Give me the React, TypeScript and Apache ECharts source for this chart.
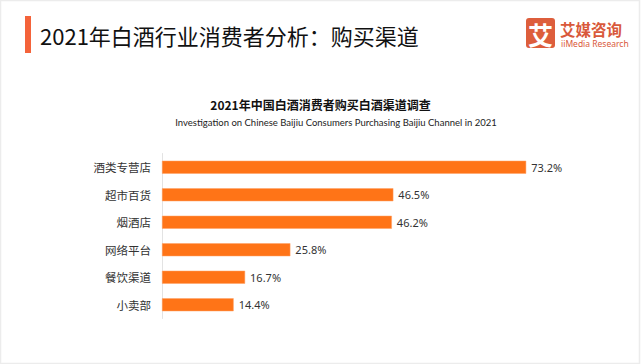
import React, { useEffect, useRef } from "react";
import * as echarts from "echarts";

const categories = ["酒类专营店", "超市百货", "烟酒店", "网络平台", "餐饮渠道", "小卖部"];
const values = [73.2, 46.5, 46.2, 25.8, 16.7, 14.4];
const pageTitle = "2021年白酒行业消费者分析：购买渠道";
const chartTitle = "2021年中国白酒消费者购买白酒渠道调查";
const chartSubtitle = "Investigation on Chinese Baijiu Consumers Purchasing Baijiu Channel in 2021";

export default function App() {
  const ref = useRef<HTMLDivElement>(null);
  useEffect(() => {
    if (!ref.current) return;
    const chart = echarts.init(ref.current, null, { renderer: "svg" });
    const cjk = "'Noto Sans CJK SC', 'Noto Sans', sans-serif";
    chart.setOption({
      animation: false,
      backgroundColor: "#ffffff",
      title: [
        {
          text: chartTitle,
          left: "center",
          top: 93,
          textStyle: { fontFamily: cjk, fontSize: 12, fontWeight: "bold", color: "#111" },
        },
        {
          text: chartSubtitle,
          left: 331,
          textAlign: "center",
          top: 112,
          textStyle: { fontFamily: "'Lato', 'Noto Sans', sans-serif", fontSize: 9.5, fontWeight: "normal", color: "#222" },
        },
      ],
      graphic: [
        { type: "rect", shape: { x: 0.5, y: 0.5, width: 639, height: 363 }, style: { fill: "none", stroke: "#ececec", lineWidth: 1.5 } },
        { type: "rect", shape: { x: 25, y: 16, width: 6, height: 37 }, style: { fill: "#F4633A" } },
        {
          type: "text",
          x: 40,
          y: 35,
          style: { text: pageTitle, fontFamily: cjk, fontSize: 22, fill: "#111", textVerticalAlign: "middle" },
        },
        { type: "rect", shape: { x: 526, y: 18, width: 29, height: 30, r: 3 }, style: { fill: "#DD5E3C" } },
        {
          type: "text",
          x: 540.5,
          y: 34,
          style: { text: "艾", fontFamily: cjk, fontSize: 25, fontWeight: "bold", fill: "#fff", textAlign: "center", textVerticalAlign: "middle" },
        },
        {
          type: "text",
          x: 560,
          y: 28.5,
          style: { text: "艾媒咨询", fontFamily: cjk, fontSize: 15.5, fontWeight: "bold", fill: "#D9593B", textVerticalAlign: "middle" },
        },
        {
          type: "text",
          x: 561,
          y: 43.5,
          style: { text: "iiMedia Research", fontFamily: "'Noto Sans', sans-serif", fontSize: 8.5, fill: "#D9593B", textVerticalAlign: "middle" },
        },
      ],
      grid: { left: 162, top: 153.5, width: 398, height: 165, containLabel: false },
      xAxis: {
        type: "value",
        min: 0,
        max: 80,
        show: false,
      },
      yAxis: {
        type: "category",
        inverse: true,
        data: categories,
        axisLine: { show: true, lineStyle: { color: "#e3e3e3", width: 1 } },
        axisTick: { show: false },
        axisLabel: { margin: 11, fontFamily: cjk, fontSize: 11.5, color: "#333" },
      },
      series: [
        {
          type: "bar",
          data: values,
          barWidth: 13,
          itemStyle: { color: "#FF7417", borderColor: "#FFA066", borderWidth: 0.5 },
          label: {
            show: true,
            position: "right",
            distance: 5,
            formatter: (p: any) => `${p.value.toFixed(1)}%`,
            fontFamily: "'Noto Sans', sans-serif",
            fontSize: 11,
            color: "#333",
          },
        },
      ],
    });
    return () => chart.dispose();
  }, []);
  return <div ref={ref} style={{ position: "fixed", left: 0, top: 0, width: 641, height: 364 }} />;
}
